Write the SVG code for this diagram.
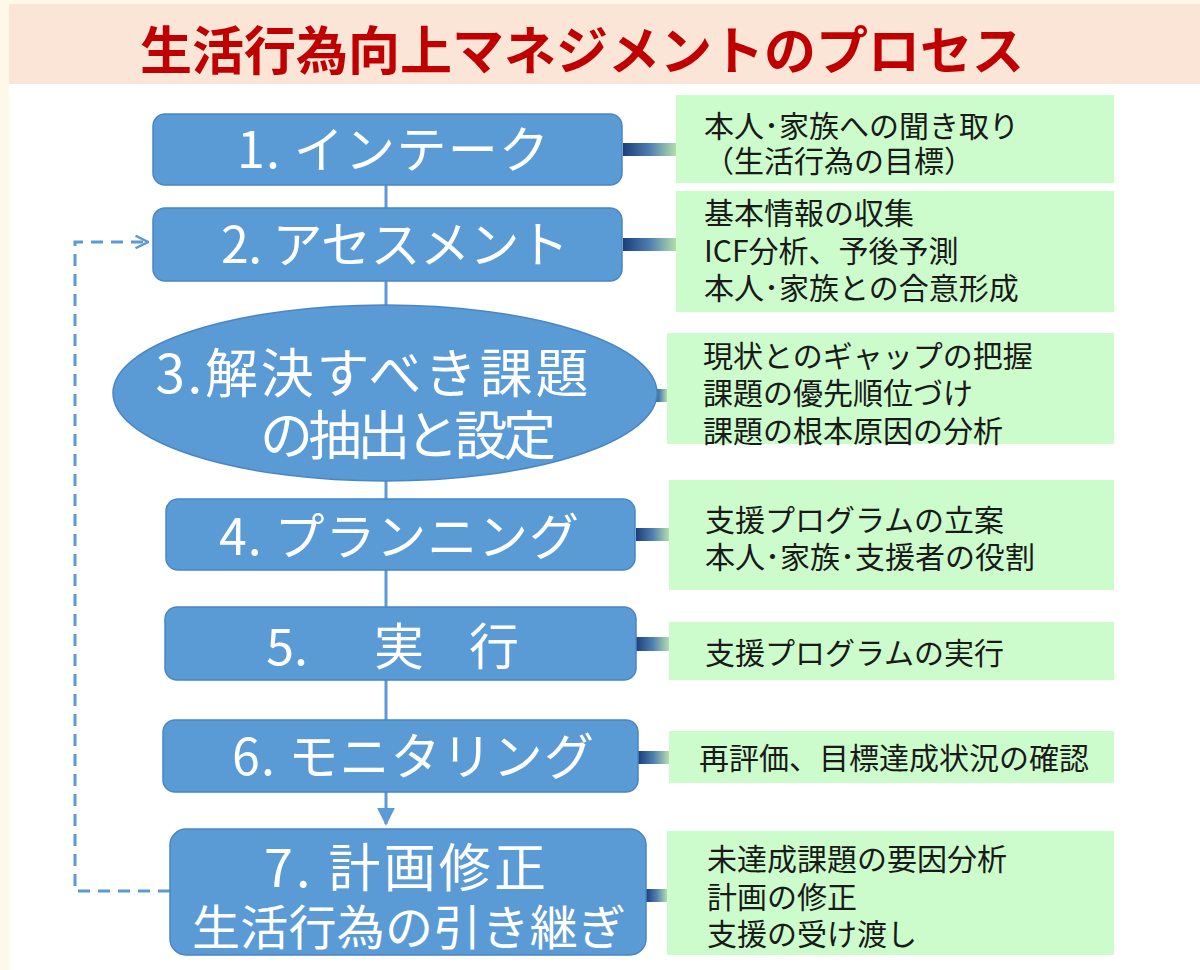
<svg xmlns="http://www.w3.org/2000/svg" width="1200" height="970" viewBox="0 0 1200 970">
<style>
.blue{fill:#5b9bd5;stroke:#4a86c4;stroke-width:1.5}
.green{fill:#ccfccc}
.bt{font-family:"Noto Sans CJK JP","Noto Sans",sans-serif;font-size:50px;fill:#ffffff;text-anchor:middle}
.gt{font-family:"Noto Sans CJK JP","Noto Sans",sans-serif;font-size:30px;fill:#1a1a1a}
.title{font-family:"Noto Sans CJK JP","Noto Sans",sans-serif;font-size:52px;font-weight:700;fill:#c00000;text-anchor:middle}
.flow{fill:none;stroke:#5b9bd5;stroke-width:3}
.dash{fill:none;stroke:#5b9bd5;stroke-width:3;stroke-dasharray:12 8}
</style>
<defs>
<linearGradient id="bar" x1="0" y1="0" x2="1" y2="0">
<stop offset="0" stop-color="#1c3d7a"/>
<stop offset="0.5" stop-color="#4f7fb0"/>
<stop offset="1" stop-color="#b5dcb0"/>
</linearGradient>
<marker id="tri" viewBox="0 0 10 10" refX="9" refY="5" markerWidth="6" markerHeight="6" orient="auto" markerUnits="strokeWidth">
<path d="M0,0 L10,5 L0,10 Z" fill="#5b9bd5"/>
</marker>
<marker id="open" viewBox="0 0 12 12" refX="11" refY="6" markerWidth="5" markerHeight="5" orient="auto" markerUnits="strokeWidth">
<path d="M1,1 L11,6 L1,11" fill="none" stroke="#5b9bd5" stroke-width="2"/>
</marker>
</defs>
<rect x="0" y="0" width="1200" height="970" fill="#fef8e8"/>
<rect x="9" y="4" width="1191" height="80" fill="#fbe5d6"/>
<rect x="9" y="84" width="1191" height="886" fill="#ffffff"/>
<text class="title" x="582" y="70">生活行為向上マネジメントのプロセス</text>

<g id="connectors">
<path class="flow" d="M386,184 V824" marker-end="url(#tri)"/>
<path class="dash" d="M170,891 H75 V242 H148" marker-end="url(#open)"/>
<rect x="623" y="143" width="53" height="13" fill="url(#bar)"/>
<rect x="623" y="238" width="53" height="13" fill="url(#bar)"/>
<rect x="652" y="389" width="15" height="13" fill="url(#bar)"/>
<rect x="636" y="528" width="33" height="13" fill="url(#bar)"/>
<rect x="636" y="637" width="33" height="14" fill="url(#bar)"/>
<rect x="638" y="751" width="31" height="13" fill="url(#bar)"/>
<rect x="646" y="889" width="21" height="13" fill="url(#bar)"/>
</g>

<g id="step1">
<rect class="blue" x="153" y="114" width="469" height="71" rx="12"/>
<text class="bt" x="393" y="168" textLength="312" lengthAdjust="spacing">1. インテーク</text>
</g>
<g id="step2">
<rect class="blue" x="153" y="208" width="469" height="73" rx="12"/>
<text class="bt" x="395" y="263" textLength="348" lengthAdjust="spacing">2. アセスメント</text>
</g>
<g id="step3">
<ellipse class="blue" cx="385" cy="393" rx="272" ry="88"/>
<text class="bt" x="372" y="393" style="font-size:53px" textLength="433" lengthAdjust="spacing">3.解決すべき課題</text>
<text class="bt" x="408" y="455" style="font-size:53px" textLength="296" lengthAdjust="spacing">の抽出と設定</text>
</g>
<g id="step4">
<rect class="blue" x="166" y="499" width="469" height="71" rx="12"/>
<text class="bt" x="399" y="555" textLength="360" lengthAdjust="spacing">4. プランニング</text>
</g>
<g id="step5">
<rect class="blue" x="165" y="607" width="471" height="73" rx="12"/>
<text class="bt" x="287" y="665">5.</text>
<text class="bt" x="399" y="665">実</text>
<text class="bt" x="494" y="665">行</text>
</g>
<g id="step6">
<rect class="blue" x="163" y="720" width="475" height="72" rx="12"/>
<text class="bt" x="413" y="775" textLength="362" lengthAdjust="spacing">6. モニタリング</text>
</g>
<g id="step7">
<rect class="blue" x="170" y="829" width="476" height="126" rx="16"/>
<text class="bt" x="405" y="887" style="font-size:52px" textLength="282" lengthAdjust="spacing">7. 計画修正</text>
<text class="bt" x="409" y="945" style="font-size:48px" textLength="434" lengthAdjust="spacing">生活行為の引き継ぎ</text>
</g>

<g id="note1">
<rect class="green" x="676" y="95" width="438" height="88"/>
<text class="gt" x="704" y="137">本人･家族への聞き取り</text>
<text class="gt" x="704" y="172">（生活行為の目標）</text>
</g>
<g id="note2">
<rect class="green" x="676" y="191" width="438" height="121"/>
<text class="gt" x="704" y="224">基本情報の収集</text>
<text class="gt" x="704" y="262">ICF分析、予後予測</text>
<text class="gt" x="704" y="299">本人･家族との合意形成</text>
</g>
<g id="note3">
<rect class="green" x="667" y="333" width="447" height="111"/>
<text class="gt" x="703" y="367">現状とのギャップの把握</text>
<text class="gt" x="703" y="404">課題の優先順位づけ</text>
<text class="gt" x="703" y="442">課題の根本原因の分析</text>
</g>
<g id="note4">
<rect class="green" x="669" y="480" width="445" height="110"/>
<text class="gt" x="705" y="531">支援プログラムの立案</text>
<text class="gt" x="705" y="568">本人･家族･支援者の役割</text>
</g>
<g id="note5">
<rect class="green" x="669" y="622" width="445" height="58"/>
<text class="gt" x="705" y="664">支援プログラムの実行</text>
</g>
<g id="note6">
<rect class="green" x="669" y="731" width="445" height="52"/>
<text class="gt" x="699" y="769">再評価、目標達成状況の確認</text>
</g>
<g id="note7">
<rect class="green" x="667" y="831" width="447" height="124"/>
<text class="gt" x="707" y="870">未達成課題の要因分析</text>
<text class="gt" x="707" y="908">計画の修正</text>
<text class="gt" x="707" y="945">支援の受け渡し</text>
</g>
</svg>
